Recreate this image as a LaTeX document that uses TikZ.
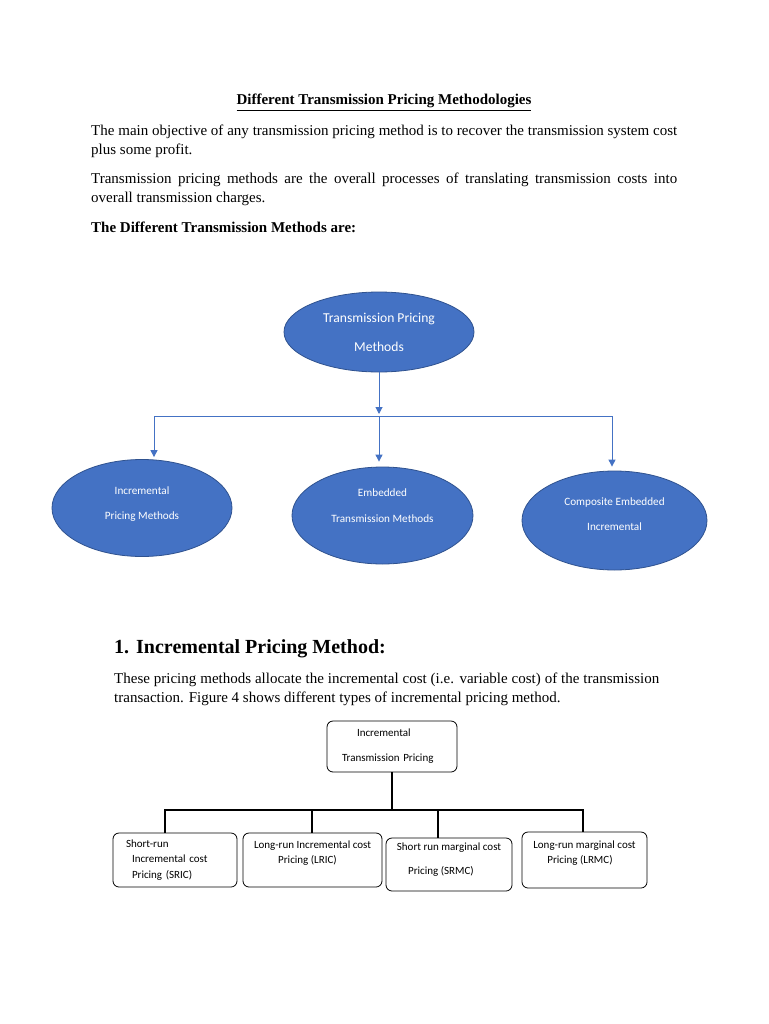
\documentclass[tikz,border=0pt]{standalone}
\usepackage{fontspec}
\setmainfont{Liberation Serif}
\newfontfamily\calibri{Carlito}
\usepackage{xcolor}
\usetikzlibrary{positioning}
\usetikzlibrary{arrows.meta, shapes.geometric}
\definecolor{ovalblue}{HTML}{4472C4}
\definecolor{ovaledge}{HTML}{2F528F}

\begin{document}
\begin{tikzpicture}[x=1pt, y=-1pt,
  oval/.style = {draw=ovaledge, fill=ovalblue, ellipse, line width=0.8pt, text=white, align=center, inner sep=0pt, font=\calibri\fontsize{11.2}{25.5}\selectfont},
  box/.style = {draw, rounded corners=6pt, line width=0.8pt, inner sep=0pt, font=\calibri\fontsize{11}{15.5}\selectfont},
  link/.style = {ovalblue, line width=1pt},
  arr/.style = {link, -{Triangle[length=7pt, width=7pt]}},
  bar/.style = {line width=2.6pt},
  body/.style = {anchor=base west, inner sep=0pt, text width=586pt, align=justify, font=\fontsize{15}{19}\selectfont}]

\fill[white] (0,0) rectangle (768,1024);
\useasboundingbox (0,0) rectangle (768,1024);

\node[anchor=base, inner sep=0pt, font=\bfseries\fontsize{15}{19}\selectfont] (title) at (384,105) {\underline{Different Transmission Pricing Methodologies}};
\node[body] (aim) at (91,136) {The main objective of any transmission pricing method is to recover the transmission system cost\linebreak plus some profit.};
\node[body] (def) at (91,184) {Transmission pricing methods are the overall processes of translating transmission costs into\linebreak overall transmission charges.};
\node[body, font=\bfseries\fontsize{15}{19}\selectfont] (intro) at (91,233) {The Different Transmission Methods are:};

% first tree
\node[oval, minimum width=190pt, minimum height=80pt, font=\calibri\fontsize{13.6}{29}\selectfont] (tpm) at (379,332) {Transmission Pricing\\Methods};
\node[oval, minimum width=180pt, minimum height=97pt] (ipm) at (142,508) {Incremental\\Pricing Methods\\[-16pt]\mbox{}};
\node[oval, minimum width=181pt, minimum height=97pt] (etm) at (382.5,515.5) {Embedded\\Transmission Methods\\[-6pt]\mbox{}};
\node[oval, minimum width=185pt, minimum height=99pt] (cei) at (614.5,520.5) {Composite Embedded\\Incremental\\[-13pt]\mbox{}};
\coordinate (hub) at (379,416);
\coordinate (hubL) at (154,416);
\coordinate (hubR) at (612,416);
\draw[arr, shorten >=2pt] (tpm) -- (hub);
\draw[link] (hubL) -- (hubR);
\draw[arr, shorten >=2pt] (hubL) -- (hubL |- ipm.north);
\draw[arr, shorten >=5pt] (hub) -- (hub |- etm.north);
\draw[arr, shorten >=4pt] (hubR) -- (hubR |- cei.north);

\node[anchor=base west, inner sep=0pt, font=\bfseries\fontsize{20}{24}\selectfont] (head) at (114,653) {\makebox[22pt][l]{1.}Incremental Pricing Method:};
\node[body, text width=545pt] (alloc) at (114,683) {These pricing methods allocate the incremental cost (i.e. variable cost) of the transmission\linebreak transaction. Figure 4 shows different types of incremental pricing method.};

% second tree
\node[box, minimum width=130pt, minimum height=51pt, text width=100pt, inner xsep=15pt, align=left, font=\calibri\fontsize{11}{25}\selectfont] (itp) at (392,746.5) {\hspace*{15pt}Incremental\\Transmission Pricing};
\node[box, minimum width=124pt, minimum height=54pt, text width=98pt, inner xsep=13pt, align=left] (sric) at (175,860) {Short-run\\\hspace*{6pt}Incremental cost\\\hspace*{6pt}Pricing (SRIC)};
\node[box, minimum width=139pt, minimum height=54pt, align=center] (lric) at (312.5,860) {Long-run Incremental cost\\\mbox{Pricing (LRIC)\hspace*{10pt}}\\\mbox{}};
\node[box, minimum width=126pt, minimum height=53pt, align=center] (srmc) at (449,864.5) {Short run marginal cost\\[8.5pt]\mbox{Pricing (SRMC)\hspace*{16pt}}\\[-4pt]\mbox{}};
\node[box, minimum width=125pt, minimum height=56pt, align=center] (lrmc) at (584.5,860) {Long-run marginal cost\\\mbox{Pricing (LRMC)\hspace*{9pt}}\\\mbox{}};
\coordinate (bus) at (392,810);
\coordinate (busL) at (165,810);
\coordinate (busR) at (583,810);
\coordinate (tap2) at (312,810);
\coordinate (tap3) at (438,810);
\draw[bar] (itp) -- (bus);
\draw[bar] (sric.north -| busL) |- (busR) -- (lrmc.north -| busR);
\draw[bar] (tap2) -- (lric.north -| tap2);
\draw[bar] (tap3) -- (srmc.north -| tap3);
\end{tikzpicture}
\end{document}
